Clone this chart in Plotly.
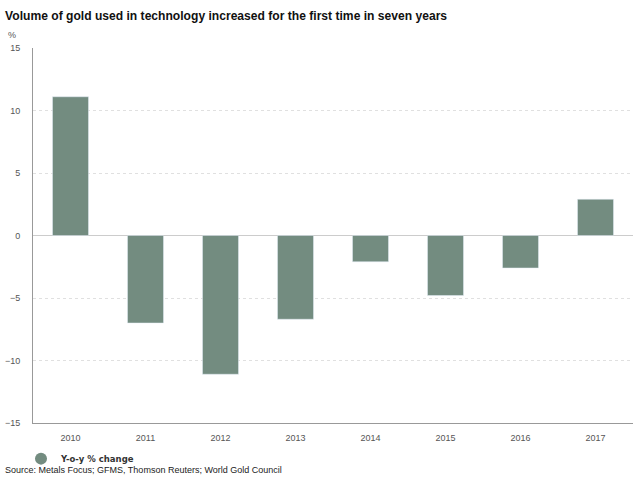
import plotly.graph_objects as go

years = ["2010", "2011", "2012", "2013", "2014", "2015", "2016", "2017"]
yoy_change = [11.1, -7.0, -11.1, -6.7, -2.1, -4.8, -2.6, 2.9]
y_ticks = [-15, -10, -5, 0, 5, 10, 15]

bar_color = "#738c80"
grey_text = "#555555"

fig = go.Figure()
fig.add_trace(go.Bar(
    x=years, y=yoy_change, marker_color=bar_color, width=0.48,
    showlegend=False, hoverinfo="x+y"))
fig.add_trace(go.Scatter(
    x=[None], y=[None], mode="markers", name="<b>Y-o-y % change</b>",
    marker=dict(symbol="circle", size=11, color=bar_color)))

fig.update_layout(
    width=640, height=480,
    margin=dict(l=33, r=7, t=48, b=57),
    paper_bgcolor="white", plot_bgcolor="white",
    font=dict(family="Liberation Sans, Arial", size=9, color=grey_text),
    title=dict(text="<b>Volume of gold used in technology increased for the first time in seven years</b>",
               x=0.008, xanchor="left", y=0.968, yanchor="middle",
               font=dict(family="Liberation Sans, Arial", size=12.1, color="#111111")),
    xaxis=dict(type="category", range=[-0.5, 7.5], showgrid=False,
               showline=True, linecolor="#999999", linewidth=1,
               ticks="", ticklabelstandoff=6, automargin=False,
               tickfont=dict(size=9, color=grey_text), fixedrange=True),
    yaxis=dict(range=[-15, 15], tickvals=y_ticks, showgrid=True,
               gridcolor="#e0e0e0", griddash="dot", gridwidth=1,
               zeroline=True, zerolinecolor="#cccccc", zerolinewidth=1,
               showline=True, linecolor="#999999", linewidth=1,
               ticks="", ticklabelstandoff=10, automargin=False,
               tickfont=dict(size=9, color=grey_text), fixedrange=True),
    showlegend=True,
    legend=dict(x=-0.02, xanchor="left", y=-0.095, yanchor="middle",
                orientation="h", bgcolor="rgba(0,0,0,0)",
                font=dict(size=8.5, color="#333333", family="DejaVu Sans, Verdana"),
                itemsizing="constant"),
    bargap=0.5,
)

fig.add_annotation(text="%", xref="paper", yref="paper", x=-0.035, y=1.035,
                   xanchor="center", yanchor="middle", showarrow=False,
                   font=dict(size=9, color=grey_text))
fig.add_annotation(text="Source: Metals Focus; GFMS, Thomson Reuters; World Gold Council",
                   xref="paper", yref="paper", x=-0.05, y=-0.126,
                   xanchor="left", yanchor="middle", showarrow=False,
                   font=dict(size=9, color="#222222"))

fig.write_html("out.html")
